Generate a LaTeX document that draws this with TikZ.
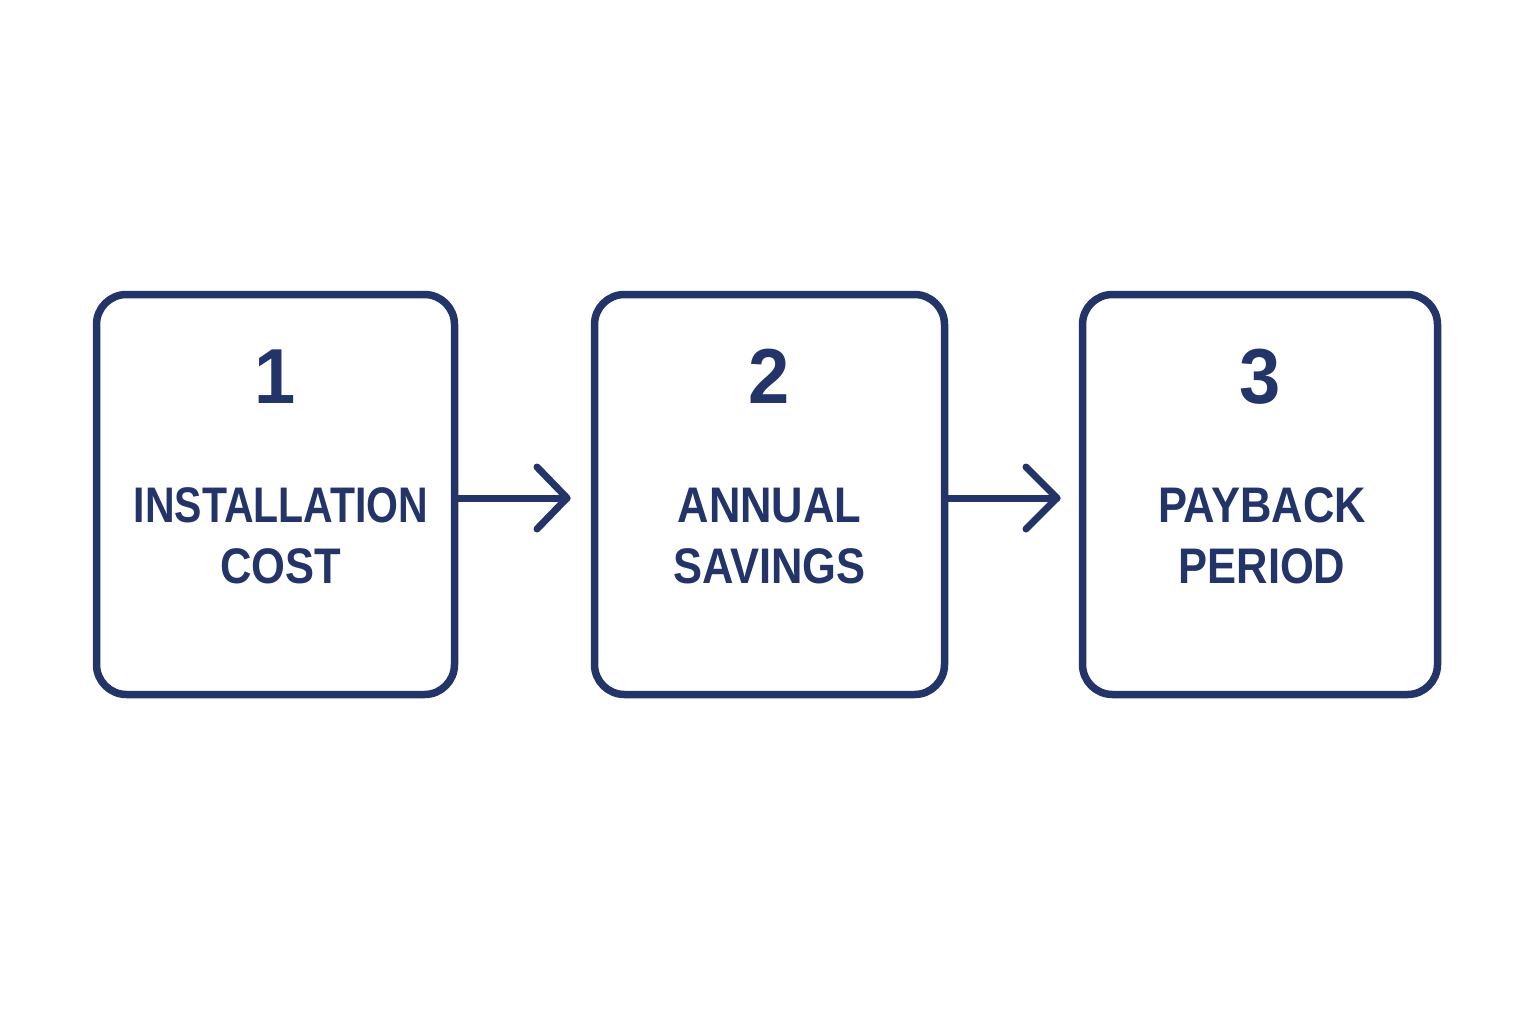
\documentclass[tikz,border=0pt]{standalone}
\usepackage{fontspec}
\setmainfont{Liberation Sans}[BoldFont={Liberation Sans Bold},BoldFeatures={FakeStretch=0.87}]
\newfontfamily\digitfont{Liberation Sans Bold}[FakeStretch=0.95]
\newfontfamily\narrowlbl{Liberation Sans Bold}[FakeStretch=0.82]
\definecolor{navy}{RGB}{35,52,104}
\begin{document}
\begin{tikzpicture}[x=1pt,y=-1pt,
  box/.style={draw=navy,line width=7.5pt,rounded corners=30pt},
  conn/.style={draw=navy,line width=7pt,line cap=round,line join=round},
  num/.style={text=navy,font=\fontsize{78}{80}\digitfont,anchor=base,inner sep=0pt},
  lbl/.style={text=navy,font=\fontsize{50}{61}\selectfont\bfseries,anchor=base,inner sep=0pt,align=center},
  nlbl/.style={lbl,font=\fontsize{50}{61}\narrowlbl}]
\useasboundingbox (0,0) rectangle (1536,1024);
\fill[white] (0,0) rectangle (1536,1024);
\draw[box] (96.5,294.5) rectangle (454.5,694.5);
\draw[box] (594.5,294.5) rectangle (944.5,694.5);
\draw[box] (1082.5,294.5) rectangle (1437.5,694.5);
\coordinate (b1e) at (458,498);
\coordinate (b2e) at (948,498);
\coordinate (t1) at (567,498);
\coordinate (t2) at (1057,498);
\path[conn] (b1e) -- (t1);
\path[conn] (537,467) -- (t1) -- (537,529);
\path[conn] (b2e) -- (t2);
\path[conn] (1026,467) -- (t2) -- (1026,529);
\node[num] (n1) at (275.5,403) {1};
\node[num] (n2) at (769.5,403) {2};
\node[num] (n3) at (1260,403) {3};
\node[nlbl] (l1a) at (281,522) {INSTALLATION};
\node[lbl] (l1b) at (281,583) {COST};
\node[lbl] (l2a) at (769.5,522) {ANNUAL};
\node[lbl] (l2b) at (769.5,583) {SAVINGS};
\node[lbl] (l3a) at (1262,522) {PAYBACK};
\node[lbl] (l3b) at (1262,583) {PERIOD};
\end{tikzpicture}
\end{document}
